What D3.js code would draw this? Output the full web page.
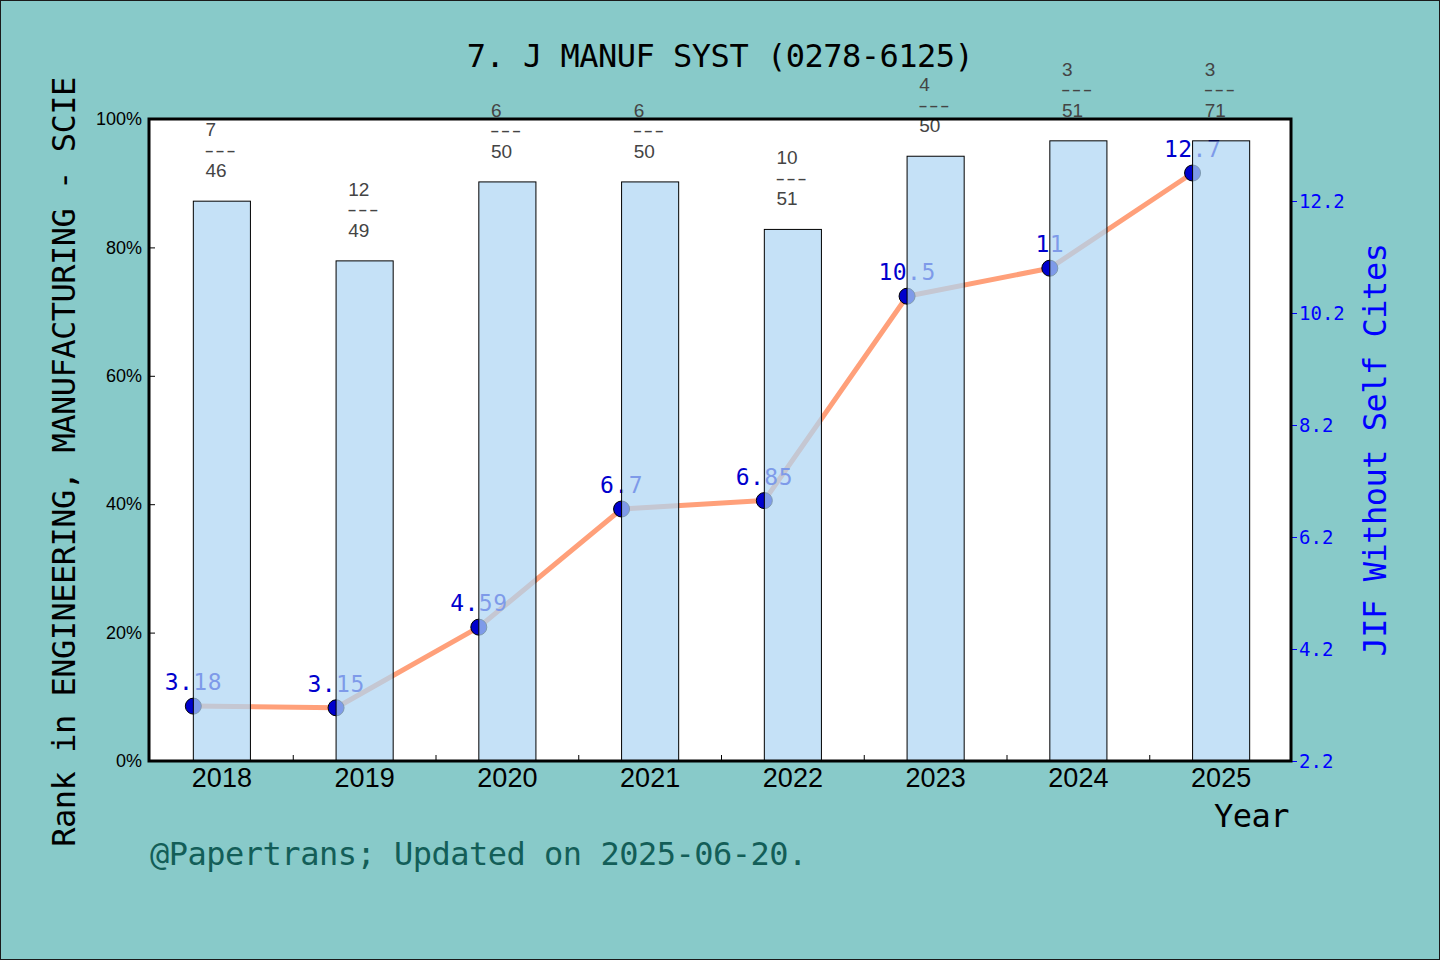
<!DOCTYPE html>
<html>
<head>
<meta charset="utf-8">
<script src="https://d3js.org/d3.v7.min.js"></script>
<style>
  html, body { margin: 0; padding: 0; background: #88cac9; }
  svg { display: block; }
</style>
</head>
<body>
<svg id="chart" width="1440" height="960"></svg>
<script>
// ---- data ----
const years = ["2018", "2019", "2020", "2021", "2022", "2023", "2024", "2025"];
const rankPercent = [87.2, 77.9, 90.2, 90.2, 82.8, 94.2, 96.6, 96.6];
const rankNum = [7, 12, 6, 6, 10, 4, 3, 3];
const rankTotal = [46, 49, 50, 50, 51, 50, 51, 71];
const jifNoSelf = [3.18, 3.15, 4.59, 6.7, 6.85, 10.5, 11, 12.7];
const leftTicks = [0, 20, 40, 60, 80, 100];
const rightTicks = [2.2, 4.2, 6.2, 8.2, 10.2, 12.2];

const titleText = "7. J MANUF SYST (0278-6125)";
const leftLabel = "Rank in ENGINEERING, MANUFACTURING - SCIE";
const rightLabel = "JIF Without Self Cites";
const xLabel = "Year";
const footer = "@Papertrans; Updated on 2025-06-20.";

// ---- layout ----
const W = 1440, H = 960;
const plot = { left: 149, right: 1291, top: 119, bottom: 761 };
const mono = "'DejaVu Sans Mono', 'Liberation Mono', monospace";
const sans = "'Liberation Sans', Arial, sans-serif";

const svg = d3.select("#chart");

svg.append("rect").attr("x", 0.5).attr("y", 0.5).attr("width", W - 1).attr("height", H - 1)
  .attr("fill", "#88cac9").attr("stroke", "#1a1a1a").attr("stroke-width", 1);

svg.append("rect").attr("x", plot.left).attr("y", plot.top)
  .attr("width", plot.right - plot.left).attr("height", plot.bottom - plot.top)
  .attr("fill", "#ffffff");

const x = d3.scaleBand().domain(years).range([plot.left + 1.5, plot.right + 1.5])
  .paddingInner(0.6).paddingOuter(0.3);
const yL = d3.scaleLinear().domain([0, 100]).range([plot.bottom, plot.top]);
const yR = d3.scaleLinear().domain([2.2, 2.2 + (plot.bottom - plot.top) / 56]).range([plot.bottom, plot.top]);

const jifData = years.map((y, i) => ({ year: y, v: jifNoSelf[i] }));
const barData = years.map((y, i) => ({ year: y, p: rankPercent[i], n: rankNum[i], t: rankTotal[i] }));

// line
const line = d3.line().x(d => x(d.year)).y(d => yR(d.v));
svg.append("path").datum(jifData).attr("d", line)
  .attr("fill", "none").attr("stroke", "#ffa07a").attr("stroke-width", 5)
  .attr("stroke-linejoin", "round");

// points
svg.append("g").selectAll("circle").data(jifData).join("circle")
  .attr("cx", d => x(d.year)).attr("cy", d => yR(d.v)).attr("r", 8)
  .attr("fill", "#0000cd").attr("stroke", "#000").attr("stroke-width", 1);

// point labels
svg.append("g").selectAll("text").data(jifData).join("text")
  .attr("x", d => x(d.year)).attr("y", d => yR(d.v) - 16)
  .attr("text-anchor", "middle")
  .attr("font-family", mono).attr("font-size", 23).attr("letter-spacing", 0.5).attr("fill", "#0000cd")
  .text(d => String(d.v));

// bars (semi-transparent, drawn over line)
svg.append("g").selectAll("rect").data(barData).join("rect")
  .attr("x", d => x(d.year)).attr("y", d => yL(d.p))
  .attr("width", x.bandwidth()).attr("height", d => yL(0) - yL(d.p))
  .attr("fill", "rgb(174,213,244)").attr("fill-opacity", 0.72)
  .attr("stroke", "#000").attr("stroke-width", 1);

// rank labels above bars
const rl = svg.append("g").selectAll("g").data(barData).join("g")
  .attr("transform", d => `translate(${x(d.year) + x.bandwidth() / 2 - 16.5},${yL(d.p) - 24})`);
rl.each(function (d) {
  const g = d3.select(this);
  const lines = [String(d.n), "---", String(d.t)];
  const offs = [-41, -20.5, 0];
  lines.forEach((s, k) => {
    g.append("text").attr("x", k === 1 ? -1 : 0).attr("y", offs[k])
      .attr("font-family", sans).attr("font-size", k === 1 ? 19 : 19)
      .attr("letter-spacing", k === 1 ? 1 : 0)
      .attr("textLength", k === 1 ? 33 : null)
      .attr("lengthAdjust", k === 1 ? "spacingAndGlyphs" : null)
      .attr("fill", "#444").text(s);
  });
});

// left axis
const axL = svg.append("g").attr("transform", `translate(${plot.left},0)`)
  .call(d3.axisLeft(yL).tickValues(leftTicks).tickFormat(d => d + "%").tickSize(-6).tickPadding(7));
axL.select(".domain").remove();
axL.selectAll("text").attr("font-family", sans).attr("font-size", 18).attr("fill", "#000");
axL.selectAll("line").attr("stroke", "#000");

// right axis
const axR = svg.append("g").attr("transform", `translate(${plot.right},0)`)
  .call(d3.axisRight(yR).tickValues(rightTicks).tickFormat(d3.format(".1f")).tickSize(6).tickPadding(2));
axR.select(".domain").remove();
axR.selectAll("text").attr("font-family", mono).attr("font-size", 19).attr("fill", "#0000ff");
axR.selectAll("line").attr("stroke", "#0000ff");

// bottom axis labels
const axB = svg.append("g").attr("transform", `translate(0,${plot.bottom})`)
  .call(d3.axisBottom(x).tickSize(0).tickPadding(7));
axB.select(".domain").remove();
axB.selectAll("text").attr("font-family", sans).attr("font-size", 27).attr("fill", "#000");

// bottom minor ticks at band boundaries
svg.append("g").selectAll("line").data(years.slice(0, -1)).join("line")
  .attr("x1", d => x(d) - x.step() * 0.3 + x.step()).attr("x2", d => x(d) - x.step() * 0.3 + x.step())
  .attr("y1", plot.bottom).attr("y2", plot.bottom - 6)
  .attr("stroke", "#000").attr("stroke-width", 1);

// plot border
svg.append("rect").attr("x", plot.left).attr("y", plot.top)
  .attr("width", plot.right - plot.left).attr("height", plot.bottom - plot.top)
  .attr("fill", "none").attr("stroke", "#000").attr("stroke-width", 3);

// texts
const bigText = (sel) => sel.attr("font-family", mono).attr("font-size", 32).attr("letter-spacing", -0.5);

bigText(svg.append("text").attr("x", 720).attr("y", 67).attr("text-anchor", "middle")
  .attr("fill", "#000").text(titleText));

bigText(svg.append("text").attr("transform", "translate(75,462) rotate(-90)")
  .attr("text-anchor", "middle").attr("fill", "#000").text(leftLabel));

bigText(svg.append("text").attr("transform", "translate(1386,450) rotate(-90)")
  .attr("text-anchor", "middle").attr("fill", "#0000ff").text(rightLabel));

bigText(svg.append("text").attr("x", 1289).attr("y", 827).attr("text-anchor", "end")
  .attr("fill", "#000").text(xLabel));

bigText(svg.append("text").attr("x", 150).attr("y", 865)
  .attr("fill", "#135e58").text(footer));
</script>
</body>
</html>
